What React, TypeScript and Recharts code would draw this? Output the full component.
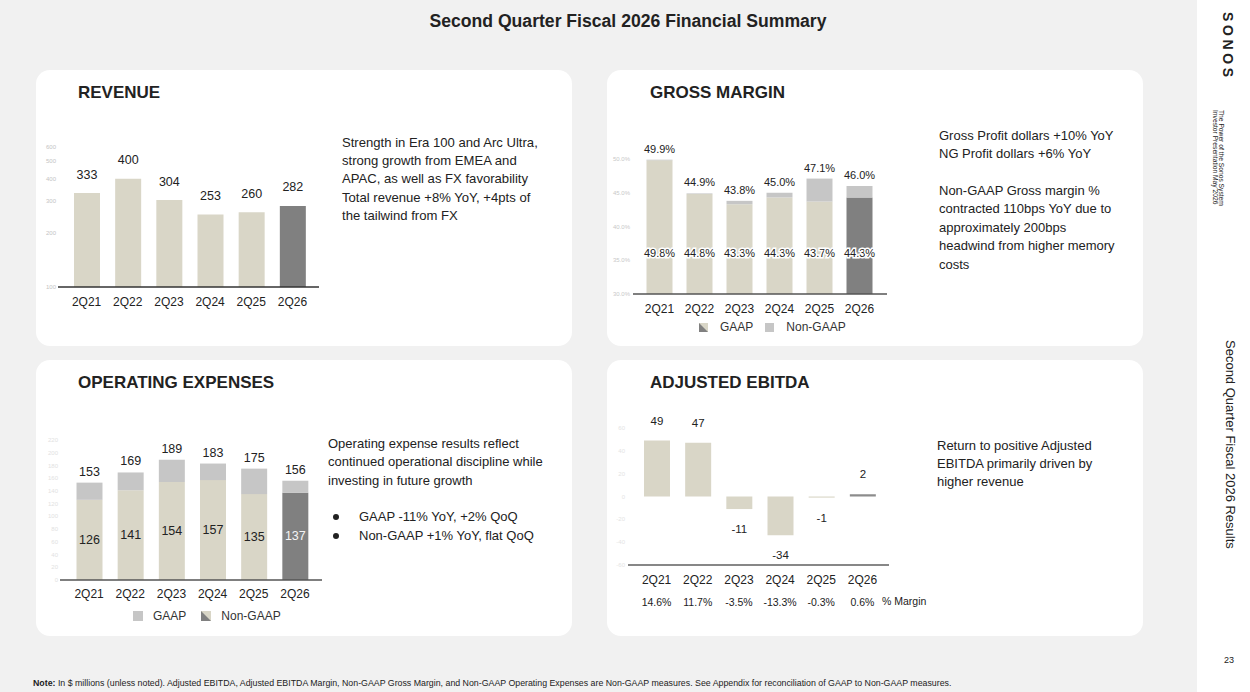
import React from 'react';
import { BarChart, Bar, XAxis, YAxis, Cell, LabelList, Legend } from 'recharts';

// values
const quarters = ['2Q21', '2Q22', '2Q23', '2Q24', '2Q25', '2Q26'];
const revenue = [333, 400, 304, 253, 260, 282];
const gaapGrossMargin = [49.8, 44.8, 43.3, 44.3, 43.7, 44.3];
const nonGaapGrossMargin = [49.9, 44.9, 43.8, 45.0, 47.1, 46.0];
const gaapOpex = [153, 169, 189, 183, 175, 156];
const nonGaapOpex = [126, 141, 154, 157, 135, 137];
const adjEbitda = [49, 47, -11, -34, -1, 2];
const ebitdaMargin = ['14.6%', '11.7%', '-3.5%', '-13.3%', '-0.3%', '0.6%'];

const revenueTicks = [100, 200, 300, 400, 500, 600];
const marginTicks = [30, 35, 40, 45, 50];
const opexTicks = [0, 20, 40, 60, 80, 100, 120, 140, 160, 180, 200, 220];
const ebitdaTicks = [-60, -40, -20, 0, 20, 40, 60];

const BEIGE = '#d9d6c7';
const DARK = '#808080';
const LIGHT = '#c6c6c6';
const INK = '#222';
const FONT = '"Liberation Sans", Arial, Helvetica, sans-serif';

const lastIdx = quarters.length - 1;

const revenueData = quarters.map((q, i) => ({ q, revenue: revenue[i] }));
const marginData = quarters.map((q, i) => ({
  q,
  gaap: gaapGrossMargin[i],
  nonGaap: nonGaapGrossMargin[i],
  nonGaapAdj: +(nonGaapGrossMargin[i] - gaapGrossMargin[i]).toFixed(1),
}));
const opexData = quarters.map((q, i) => ({
  q,
  nonGaap: nonGaapOpex[i],
  gaap: gaapOpex[i],
  gaapAdj: gaapOpex[i] - nonGaapOpex[i],
}));
const ebitdaData = quarters.map((q, i) => ({ q, ebitda: adjEbitda[i], margin: ebitdaMargin[i] }));

function box(p: any) {
  const vb = p.viewBox || p;
  const y1 = Math.min(vb.y, vb.y + vb.height);
  const y2 = Math.max(vb.y, vb.y + vb.height);
  return { cx: vb.x + vb.width / 2, top: y1, bottom: y2 };
}

const endLabel = (gap: number, size: number, fmt = (v: any) => String(v)) => (p: any) => {
  const { cx, top, bottom } = box(p);
  const neg = Number(p.value) < 0;
  return (
    <text x={cx} y={neg ? bottom + gap : top - gap} textAnchor="middle" dominantBaseline="central"
      fontSize={size} fill={INK} fontFamily={FONT}>
      {fmt(p.value)}
    </text>
  );
};

const marginInsideLabel = (p: any) => {
  const { cx, bottom } = box(p);
  return (
    <text x={cx} y={bottom - 41} textAnchor="middle" dominantBaseline="central" fontSize={11}
      fill={INK} fontFamily={FONT} stroke="#fff" strokeWidth={3} paintOrder="stroke">
      {Number(p.value).toFixed(1)}%
    </text>
  );
};

const opexInsideLabel = (p: any) => {
  const { cx, top, bottom } = box(p);
  const idx = p.index;
  return (
    <text x={cx} y={(top + bottom) / 2} textAnchor="middle" dominantBaseline="central" fontSize={12.5}
      fill={idx === lastIdx ? '#f4f4f4' : INK} fontFamily={FONT}>
      {p.value}
    </text>
  );
};

const xTick = (offset: number, size = 12) => (p: any) => (
  <text x={p.x} y={p.y + offset} textAnchor="middle" dominantBaseline="central" fontSize={size}
    fill={INK} fontFamily={FONT}>
    {p.payload.value}
  </text>
);

const ebitdaTick = (p: any) => {
  const idx = p.index ?? p.payload.index;
  return (
    <g>
      <text x={p.x} y={p.y + 15} textAnchor="middle" dominantBaseline="central" fontSize={12} fill={INK} fontFamily={FONT}>
        {p.payload.value}
      </text>
      <text x={p.x} y={p.y + 36.5} textAnchor="middle" dominantBaseline="central" fontSize={10.5} fill={INK} fontFamily={FONT}>
        {ebitdaMargin[idx]}
      </text>
    </g>
  );
};

function SplitIcon({ s }: { s: number }) {
  return (
    <svg width={s} height={s} style={{ display: 'block' }}>
      <rect width={s} height={s} fill={BEIGE} />
      <polygon points={`0,0 ${s},${s} 0,${s}`} fill={DARK} />
    </svg>
  );
}

function SquareIcon({ s }: { s: number }) {
  return <div style={{ width: s, height: s, background: LIGHT }} />;
}

const legendContent = (splitName: string, s: number, iconGap: number, itemGap: number) => (props: any) => {
  const items = [...(props.payload || [])].sort((a: any, b: any) => String(a.value).localeCompare(String(b.value)));
  return (
    <div style={{ display: 'flex', alignItems: 'center', fontFamily: FONT, fontSize: 12, color: '#333', lineHeight: '14px' }}>
      {items.map((it: any, i: number) => (
        <div key={it.value} style={{ display: 'flex', alignItems: 'center', marginLeft: i ? itemGap : 0 }}>
          {it.value === splitName ? <SplitIcon s={s} /> : <SquareIcon s={s} />}
          <span style={{ marginLeft: iconGap, whiteSpace: 'nowrap' }}>{it.value}</span>
        </div>
      ))}
    </div>
  );
};

function Card({ x, y }: { x: number; y: number }) {
  return <div style={{ position: 'absolute', left: x, top: y, width: 536, height: 276, background: '#fff', borderRadius: 14 }} />;
}

function Txt({ x, y, size, lh, bold, children }: any) {
  return (
    <div style={{ position: 'absolute', left: x, top: y - lh / 2, fontSize: size, lineHeight: lh + 'px', fontWeight: bold ? 700 : 400, whiteSpace: 'pre' }}>
      {children}
    </div>
  );
}

function Rot({ x, y, size, bold, spacing, children }: any) {
  // rotated 90deg clockwise, x = centre of the line, y = start
  return (
    <div style={{ position: 'absolute', left: x + size / 2, top: y, transform: 'rotate(90deg)', transformOrigin: 'left top',
      fontSize: size, lineHeight: size + 'px', fontWeight: bold ? 700 : 400, letterSpacing: spacing || 0, whiteSpace: 'nowrap' }}>
      {children}
    </div>
  );
}

const faintY = (fill: string) => ({ fontSize: 6, fill, fontFamily: FONT });

function RevenueChart() {
  return (
    <div style={{ position: 'absolute', left: 20, top: 120 }}>
      <BarChart width={320} height={200} data={revenueData} margin={{ top: 27, right: 21, bottom: 3, left: 0 }}>
        <YAxis scale="log" type="number" domain={[100, 600]} ticks={revenueTicks} allowDataOverflow width={38}
          axisLine={false} tickLine={false} tickSize={0} tickMargin={2} tick={faintY('#c4c4c4')} />
        <XAxis dataKey="q" height={30} padding={{ left: 8, right: 6 }} axisLine={{ stroke: '#333', strokeWidth: 1.5 }}
          tickLine={false} tickSize={0} tickMargin={0} tick={xTick(15)} interval={0} />
        <Bar dataKey="revenue" barSize={26} isAnimationActive={false}>
          {revenueData.map((d, i) => <Cell key={d.q} fill={i === lastIdx ? DARK : BEIGE} />)}
          <LabelList dataKey="revenue" content={endLabel(18.5, 12.5)} />
        </Bar>
      </BarChart>
    </div>
  );
}

function GrossMarginChart() {
  return (
    <div style={{ position: 'absolute', left: 600, top: 130 }}>
      <BarChart width={300} height={210} data={marginData} margin={{ top: 29, right: 13, bottom: 16, left: 0 }}>
        <YAxis type="number" domain={[30, 50]} ticks={marginTicks} allowDataOverflow width={33}
          axisLine={false} tickLine={false} tickSize={0} tickMargin={3} tick={faintY('#c8c8c8')}
          tickFormatter={(v: number) => v.toFixed(1) + '%'} />
        <XAxis dataKey="q" height={30} padding={{ left: 6.5, right: 7.5 }} axisLine={{ stroke: '#555', strokeWidth: 1.5 }}
          tickLine={false} tickSize={0} tickMargin={0} tick={xTick(15)} interval={0} />
        <Legend verticalAlign="middle" align="center" layout="horizontal" wrapperStyle={{ left: 99, top: 190, width: 'auto' }}
          content={legendContent('GAAP', 9, 12, 12)} />
        <Bar dataKey="gaap" name="GAAP" stackId="m" barSize={26} fill={BEIGE} isAnimationActive={false}>
          {marginData.map((d, i) => <Cell key={d.q} fill={i === lastIdx ? DARK : BEIGE} />)}
          <LabelList dataKey="gaap" content={marginInsideLabel} />
        </Bar>
        <Bar dataKey="nonGaapAdj" name="Non-GAAP" stackId="m" barSize={26} fill={LIGHT} isAnimationActive={false}>
          <LabelList dataKey="nonGaap" content={endLabel(11, 11, (v) => Number(v).toFixed(1) + '%')} />
        </Bar>
      </BarChart>
    </div>
  );
}

function OpexChart() {
  return (
    <div style={{ position: 'absolute', left: 20, top: 420 }}>
      <BarChart width={320} height={216} data={opexData} margin={{ top: 20, right: 18, bottom: 26, left: 0 }}>
        <YAxis type="number" domain={[0, 220]} ticks={opexTicks} width={40}
          axisLine={false} tickLine={false} tickSize={0} tickMargin={2} tick={faintY('#e2e2e2')} />
        <XAxis dataKey="q" height={30} padding={{ left: 8.5, right: 6.5 }} axisLine={{ stroke: '#555', strokeWidth: 1.5 }}
          tickLine={false} tickSize={0} tickMargin={0} tick={xTick(14)} interval={0} />
        <Legend verticalAlign="middle" align="center" layout="horizontal" wrapperStyle={{ left: 113, top: 189, width: 'auto' }}
          content={legendContent('Non-GAAP', 10, 10, 15)} />
        <Bar dataKey="nonGaap" name="Non-GAAP" stackId="o" barSize={26} fill={BEIGE} isAnimationActive={false}>
          {opexData.map((d, i) => <Cell key={d.q} fill={i === lastIdx ? DARK : BEIGE} />)}
          <LabelList dataKey="nonGaap" content={opexInsideLabel} />
        </Bar>
        <Bar dataKey="gaapAdj" name="GAAP" stackId="o" barSize={26} fill={LIGHT} isAnimationActive={false}>
          <LabelList dataKey="gaap" content={endLabel(11, 12.5)} />
        </Bar>
      </BarChart>
    </div>
  );
}

function EbitdaChart() {
  return (
    <div style={{ position: 'absolute', left: 600, top: 410 }}>
      <BarChart width={300} height={210} data={ebitdaData} margin={{ top: 18, right: 11, bottom: 11, left: 0 }}>
        <YAxis type="number" domain={[-60, 60]} ticks={ebitdaTicks} width={28}
          axisLine={false} tickLine={false} tickSize={0} tickMargin={3} tick={faintY('#e4e4e4')} />
        <XAxis dataKey="q" height={44} padding={{ left: 8, right: 6 }} axisLine={{ stroke: '#111', strokeWidth: 1.2 }}
          tickLine={false} tickSize={0} tickMargin={0} tick={ebitdaTick} interval={0} />
        <Bar dataKey="ebitda" barSize={26} isAnimationActive={false}>
          {ebitdaData.map((d, i) => <Cell key={d.q} fill={i === lastIdx ? '#8c8c8c' : BEIGE} />)}
          <LabelList dataKey="ebitda" content={endLabel(20, 11.5)} />
        </Bar>
      </BarChart>
    </div>
  );
}

export default function App() {
  return (
    <div style={{ position: 'absolute', left: 0, top: 0, width: 1250, height: 692, background: '#fff', overflow: 'hidden',
      fontFamily: FONT, color: INK }}>
      <div style={{ position: 'absolute', left: 0, top: 0, width: 1197, height: 692, background: '#f1f1f1' }} />

      <div style={{ position: 'absolute', left: 328, top: 10, width: 600, textAlign: 'center', fontSize: 17.6, fontWeight: 700, lineHeight: '22px' }}>
        Second Quarter Fiscal 2026 Financial Summary
      </div>

      <Card x={36} y={70} />
      <Card x={607} y={70} />
      <Card x={36} y={360} />
      <Card x={607} y={360} />

      <Txt x={78} y={93} size={17} lh={20} bold>REVENUE</Txt>
      <Txt x={650} y={93} size={17} lh={20} bold>GROSS MARGIN</Txt>
      <Txt x={78} y={383} size={17} lh={20} bold>OPERATING EXPENSES</Txt>
      <Txt x={650} y={383} size={17} lh={20} bold>ADJUSTED EBITDA</Txt>

      <RevenueChart />
      <GrossMarginChart />
      <OpexChart />
      <EbitdaChart />

      <Txt x={342} y={143} size={13.1} lh={18.3}>
        {'Strength in Era 100 and Arc Ultra,\nstrong growth from EMEA and\nAPAC, as well as FX favorability\nTotal revenue +8% YoY, +4pts of\nthe tailwind from FX'}
      </Txt>
      <Txt x={939} y={136} size={13} lh={18.4}>
        {'Gross Profit dollars +10% YoY\nNG Profit dollars +6% YoY\n\nNon-GAAP Gross margin %\ncontracted 110bps YoY due to\napproximately 200bps\nheadwind from higher memory\ncosts'}
      </Txt>
      <Txt x={328} y={444} size={13} lh={18.4}>
        {'Operating expense results reflect\ncontinued operational discipline while\ninvesting in future growth'}
      </Txt>
      <div style={{ position: 'absolute', left: 333, top: 514, width: 6, height: 6, borderRadius: 3, background: INK }} />
      <div style={{ position: 'absolute', left: 333, top: 533, width: 6, height: 6, borderRadius: 3, background: INK }} />
      <Txt x={359} y={517} size={13} lh={18.4}>GAAP -11% YoY, +2% QoQ</Txt>
      <Txt x={359} y={536} size={13} lh={18.4}>Non-GAAP +1% YoY, flat QoQ</Txt>
      <Txt x={937} y={446} size={13} lh={18.2}>
        {'Return to positive Adjusted\nEBITDA primarily driven by\nhigher revenue'}
      </Txt>
      <Txt x={882} y={601.5} size={10.5} lh={13}>% Margin</Txt>

      <div style={{ position: 'absolute', left: 33, top: 677, fontSize: 8.8, lineHeight: '12px', whiteSpace: 'nowrap' }}>
        <b>Note:</b> In $ millions (unless noted). Adjusted EBITDA, Adjusted EBITDA Margin, Non-GAAP Gross Margin, and Non-GAAP Operating Expenses are Non-GAAP measures. See Appendix for reconciliation of GAAP to Non-GAAP measures.
      </div>

      <Rot x={1228} y={12} size={14} bold spacing={3.6}>SONOS</Rot>
      <Rot x={1221} y={110} size={6.7}>The Power of the Sonos System</Rot>
      <Rot x={1214.5} y={110} size={6.7}>Investor Presentation May 2026</Rot>
      <Rot x={1230} y={340} size={13}>Second Quarter Fiscal 2026 Results</Rot>
      <div style={{ position: 'absolute', left: 1219, top: 654, width: 20, textAlign: 'center', fontSize: 9, lineHeight: '12px' }}>23</div>
    </div>
  );
}
